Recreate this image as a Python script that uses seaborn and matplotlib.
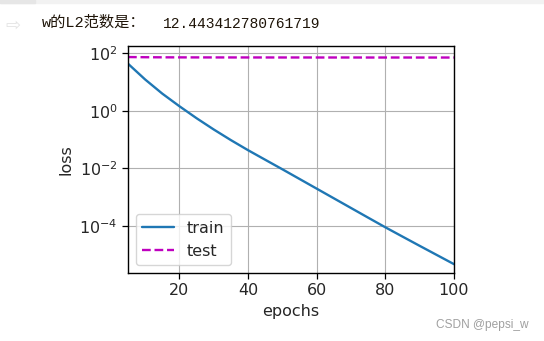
import numpy as np
import pandas as pd
import matplotlib
matplotlib.use("Agg")
import matplotlib.pyplot as plt
import seaborn as sns
from matplotlib.ticker import LogLocator, NullLocator

# ---- data ----
epochs = [5, 10, 15, 20, 25, 30, 35, 40, 45, 50,
          55, 60, 65, 70, 75, 80, 85, 90, 95, 100]
train_log10 = [1.627, 1.08, 0.59, 0.153, -0.262, -0.652, -1.020, -1.369, -1.70, -2.03,
               -2.365, -2.70, -3.035, -3.37, -3.705, -4.038, -4.36, -4.68, -4.997, -5.314]
test_loss = [72.0, 71.0, 70.5, 70.2, 70.0, 69.9, 69.8, 69.7, 69.7, 69.6,
             69.6, 69.5, 69.5, 69.5, 69.4, 69.4, 69.4, 69.3, 69.3, 69.3]
train_loss = [10 ** v for v in train_log10]
w_norm_label = "w的L2范数是："
w_norm_value = "12.443412780761719"
watermark = "CSDN @pepsi_w"
x_ticks = [20, 40, 60, 80, 100]

df = pd.DataFrame({"epochs": epochs, "train": train_loss, "test": test_loss})

sns.set_style("ticks")
plt.rcParams["font.family"] = ["DejaVu Sans"]

fig = plt.figure(figsize=(5.44, 3.41), dpi=100)
ax = fig.add_axes([128 / 544, 1 - 273 / 341, (454 - 128) / 544, (273 - 46) / 341])

sns.lineplot(data=df, x="epochs", y="train", ax=ax, color="#1f77b4",
             linewidth=1.7, label="train")
sns.lineplot(data=df, x="epochs", y="test", ax=ax, color="m",
             linewidth=1.7, linestyle="--", label="test")

ax.set_yscale("log")
ax.set_xlim(5, 100)
ax.set_ylim(10 ** -5.62, 10 ** 2.24)
ax.set_xticks(x_ticks)
ax.yaxis.set_major_locator(LogLocator(base=10, subs=[1.0], numticks=5))
ax.yaxis.set_minor_locator(NullLocator())
ax.grid(True, color="#b0b0b0", linewidth=0.8)
ax.set_xlabel("epochs", fontsize=11.5)
ax.set_ylabel("loss", fontsize=11.5)
ax.tick_params(labelsize=11.5, length=4, width=0.9, color="black", direction="out")
for s in ax.spines.values():
    s.set_visible(True)
    s.set_color("black")
    s.set_linewidth(1.0)

handles, labels = ax.get_legend_handles_labels()
ax.legend(handles, labels, loc="lower left", fontsize=11.5, framealpha=0.8,
          handlelength=2.0)

# notebook output text above the chart
fig.text(42 / 544, 1 - 23 / 341, w_norm_label, fontsize=11, color="#1e1408",
         va="center", ha="left", family=["Liberation Mono", "Noto Sans CJK SC"])
fig.text(163 / 544, 1 - 24 / 341, w_norm_value, fontsize=10.5, color="#1e1408",
         va="center", ha="left", family=["Liberation Mono"])
# faint notebook decorations
fig.patches.append(matplotlib.patches.Rectangle((0, 1 - 3 / 341), 1, 3 / 341,
                   transform=fig.transFigure, color="#f2f2f2", zorder=0))
fig.patches.append(matplotlib.patches.Rectangle((0, 1 - 3 / 341), 35 / 544, 3 / 341,
                   transform=fig.transFigure, color="#e6e6e6", zorder=0))
fig.text(13 / 544, 1 - 26 / 341, "⇨", fontsize=13, color="#e4e4e4",
         va="center", ha="center")

fig.text(529 / 544, 1 - 325 / 341, watermark, fontsize=8.6, color="#a0a0a0",
         ha="right", va="center", family=["Liberation Sans"])

fig.savefig("out.png", dpi=100)
